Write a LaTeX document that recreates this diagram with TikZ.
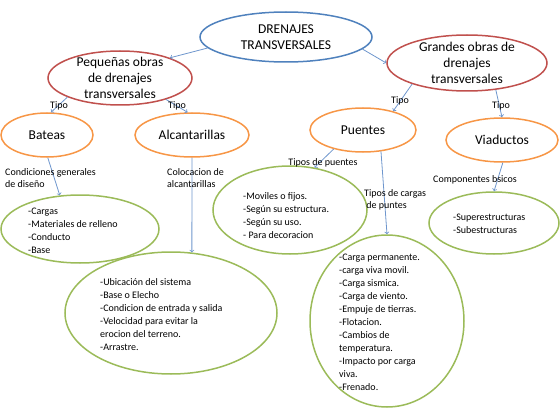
\documentclass[tikz,border=0pt]{standalone}
\usepackage{fontspec}
\setmainfont{Carlito}
\usetikzlibrary{shapes.geometric}
\definecolor{dblue}{RGB}{79,129,189}
\definecolor{dred}{RGB}{192,80,77}
\definecolor{dorange}{RGB}{247,150,70}
\definecolor{dgreen}{RGB}{155,187,89}
\definecolor{linkc}{RGB}{110,150,205}
\begin{document}
\begin{tikzpicture}[x=1pt, y=-1pt,
  bubble/.style={ellipse, draw, line width=1.5pt, inner sep=0pt},
  big/.style={align=center, font=\fontsize{13.5}{16}\selectfont, text=black},
  list/.style={align=left, anchor=west, inner sep=0pt, font=\fontsize{10}{13}\selectfont, text=black},
  lbl/.style={align=left, inner sep=0pt, font=\fontsize{10}{12}\selectfont, text=black},
  link/.style={->, linkc, line width=0.8pt}]
\useasboundingbox (0,0) rectangle (560,420);
\node[bubble, dblue, minimum width=172, minimum height=50] (dren) at (286,37){};
\node[big] (dren-t) at (dren) {DRENAJES\\TRANSVERSALES};
\node[bubble, dred, minimum width=144, minimum height=54] (peq) at (120,78){};
\node[big] (peq-t) at (peq) {Pequeñas obras\\de drenajes\\transversales};
\node[bubble, dred, minimum width=160, minimum height=56] (gra) at (467,63){};
\node[big] (gra-t) at (gra) {Grandes obras de\\drenajes\\transversales};
\node[bubble, dorange, minimum width=92, minimum height=44] (bat) at (47,135){};
\node[big] (bat-t) at (bat) {Bateas};
\node[bubble, dorange, minimum width=114, minimum height=44] (alc) at (192,135){};
\node[big] (alc-t) at (alc) {Alcantarillas};
\node[bubble, dorange, minimum width=106, minimum height=44] (pue) at (363,130){};
\node[big] (pue-t) at (pue) {Puentes};
\node[bubble, dorange, minimum width=112, minimum height=44] (via) at (502,140){};
\node[big] (via-t) at (via) {Viaductos};
\node[bubble, dgreen, minimum width=158, minimum height=68] (car) at (80,229){};
\node[list] (car-t) at (28,231) {-Cargas\\-Materiales de relleno\\-Conducto\\-Base};
\node[bubble, dgreen, minimum width=212, minimum height=122] (ubi) at (171,313){};
\node[list] (ubi-t) at (100,315) {-Ubicación del sistema\\-Base o Elecho\\-Condicion de entrada y salida\\-Velocidad para evitar la\\erocion del terreno.\\-Arrastre.};
\node[bubble, dgreen, minimum width=154, minimum height=88] (mov) at (290,210){};
\node[list] (mov-t) at (243,216) {-Moviles o fijos.\\-Según su estructura.\\-Según su uso.\\- Para decoracion};
\node[bubble, dgreen, minimum width=154, minimum height=172] (cpe) at (387,321){};
\node[list] (cpe-t) at (339,322) {-Carga permanente.\\-carga viva movil.\\-Carga sismica.\\-Carga de viento.\\-Empuje de tierras.\\-Flotacion.\\-Cambios de\\temperatura.\\-Impacto por carga\\viva.\\-Frenado.};
\node[bubble, dgreen, minimum width=130, minimum height=62] (sup) at (494,223){};
\node[list] (sup-t) at (453,224) {-Superestructuras\\-Subestructuras};
\draw[link] (dren.188) -- (peq.22);
\draw[link] (dren.351) -- (gra.180);
\draw[link] (peq.200) -- (bat.80);
\draw[link] (peq.335) -- (alc.101);
\draw[link] (gra.201) -- (pue.32);
\draw[link] (gra.317) -- (via.90);
\draw[link] (bat.272) -- (car.121);
\draw[link] (alc.270) -- (ubi.71);
\draw[link] (pue.213) -- (mov.60);
\draw[link] (pue.310) -- (cpe.90);
\draw[link] (via.272) -- (sup.90);
\node[lbl] (tipo1) at (59,106) {Tipo};
\node[lbl] (tipo2) at (177,106) {Tipo};
\node[lbl] (tipo3) at (400,101) {Tipo};
\node[lbl] (tipo4) at (501,106) {Tipo};
\node[lbl, anchor=west] (cond) at (5,178) {Condiciones generales\\de diseño};
\node[lbl, anchor=west] (colo) at (167,178) {Colocacion de\\alcantarillas};
\node[lbl] (tpue) at (323,163) {Tipos de puentes};
\node[lbl, anchor=west] (tcar) at (364,200) {Tipos de cargas\\\ de puntes};
\node[lbl] (comp) at (475,180) {Componentes bsicos};
\end{tikzpicture}
\end{document}
